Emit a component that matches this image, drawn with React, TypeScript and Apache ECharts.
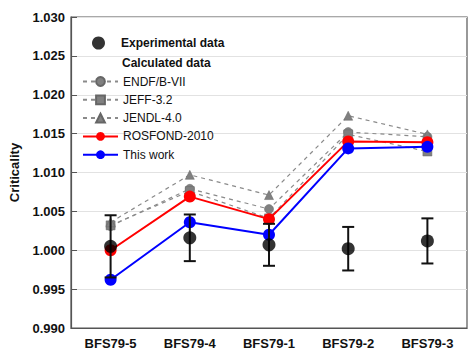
import React, { useEffect, useRef } from "react";
import * as echarts from "echarts";

const categories = ["BFS79-5", "BFS79-4", "BFS79-1", "BFS79-2", "BFS79-3"];
const experimental = [1.0005, 1.0016, 1.0007, 1.0002, 1.0012];
const expError = [0.004, 0.003, 0.0027, 0.0028, 0.0029];
const endf = [1.0031, 1.0079, 1.0053, 1.0152, 1.0146];
const jeff = [1.0032, 1.0076, 1.0041, 1.0149, 1.0127];
const jendl = [1.0036, 1.0097, 1.0071, 1.0173, 1.0149];
const rosfond = [1.0, 1.0069, 1.004, 1.014, 1.0139];
const thisWork = [0.9962, 1.0036, 1.002, 1.0131, 1.0133];
const yTicks = { min: 0.99, max: 1.03, interval: 0.005 };

export default function App() {
  const ref = useRef<HTMLDivElement>(null);
  useEffect(() => {
    if (!ref.current) return;
    const chart = echarts.init(ref.current, undefined, { renderer: "svg" });
    const font = "Liberation Sans, Arial, sans-serif";
    const gray = "#808080";
    const dashed = (name: string, data: number[], symbol: string) => ({
      name,
      type: "line",
      data,
      symbol,
      symbolSize: 9,
      z: 2,
      itemStyle: { color: gray, borderColor: "#666", borderWidth: 0.5 },
      lineStyle: { color: "#8a8a8a", width: 1.2, type: [4, 4] },
    });
    chart.setOption({
      animation: false,
      textStyle: { fontFamily: font },
      grid: { left: 65, right: 7, top: 17, bottom: 34, show: true, borderColor: "#555", borderWidth: 1.2 },
      xAxis: {
        type: "category",
        data: categories,
        boundaryGap: true,
        axisLine: { lineStyle: { color: "#555", width: 1.2 } },
        axisTick: { inside: true, alignWithLabel: true, length: 6, lineStyle: { color: "#555" } },
        axisLabel: { color: "#111", fontWeight: "bold", fontSize: 13, fontFamily: font, margin: 9 },
      },
      yAxis: {
        type: "value",
        min: yTicks.min,
        max: yTicks.max,
        interval: yTicks.interval,
        name: "Criticality",
        nameLocation: "middle",
        nameGap: 50,
        nameTextStyle: { color: "#111", fontWeight: "bold", fontSize: 13, fontFamily: font },
        axisLine: { show: true, lineStyle: { color: "#555", width: 1.2 } },
        axisTick: { show: true, inside: true, length: 6, lineStyle: { color: "#555" } },
        axisLabel: {
          color: "#111",
          fontWeight: "bold",
          fontSize: 13,
          fontFamily: font,
          margin: 6,
          formatter: (v: number) => v.toFixed(3),
        },
        splitLine: { show: true, lineStyle: { color: "#e2e2e2", width: 1 } },
      },
      legend: [
        {
          data: ["Experimental data"],
          left: 92,
          top: 36.5,
          padding: 0,
          itemWidth: 35,
          itemHeight: 13,
          textStyle: { fontWeight: "bold", fontSize: 12, color: "#111", fontFamily: font },
        },
        {
          data: ["ENDF/B-VII", "JEFF-3.2", "JENDL-4.0", "ROSFOND-2010", "This work"],
          orient: "vertical",
          left: 82,
          top: 75.5,
          padding: 0,
          itemGap: 6.3,
          itemWidth: 35,
          itemHeight: 11,
          textStyle: { fontSize: 12, color: "#111", fontFamily: font },
        },
      ],
      graphic: [
        {
          type: "text",
          left: 122,
          top: 57,
          style: { text: "Calculated data", fontWeight: "bold", fontSize: 12, fill: "#111", fontFamily: font },
        },
      ],
      series: [
        dashed("ENDF/B-VII", endf, "circle"),
        dashed("JEFF-3.2", jeff, "rect"),
        dashed("JENDL-4.0", jendl, "triangle"),
        {
          name: "ROSFOND-2010",
          type: "line",
          data: rosfond,
          symbol: "circle",
          symbolSize: 12,
          z: 3,
          itemStyle: { color: "#ff0000" },
          lineStyle: { color: "#ff0000", width: 2 },
        },
        {
          name: "This work",
          type: "line",
          data: thisWork,
          symbol: "circle",
          symbolSize: 12,
          z: 4,
          itemStyle: { color: "#0000ff" },
          lineStyle: { color: "#0000ff", width: 2 },
        },
        {
          name: "errbar",
          type: "custom",
          z: 5,
          data: experimental.map((v, i) => [i, v - expError[i], v + expError[i]]),
          renderItem: (params: any, api: any) => {
            const x = api.value(0);
            const lo = api.coord([x, api.value(1)]);
            const hi = api.coord([x, api.value(2)]);
            const w = 6;
            const style = { stroke: "#111", lineWidth: 2 };
            return {
              type: "group",
              children: [
                { type: "line", shape: { x1: lo[0], y1: lo[1], x2: hi[0], y2: hi[1] }, style },
                { type: "line", shape: { x1: lo[0] - w, y1: lo[1], x2: lo[0] + w, y2: lo[1] }, style },
                { type: "line", shape: { x1: hi[0] - w, y1: hi[1], x2: hi[0] + w, y2: hi[1] }, style },
              ],
            };
          },
        },
        {
          name: "Experimental data",
          type: "scatter",
          data: experimental,
          symbol: "circle",
          symbolSize: 13,
          z: 6,
          itemStyle: { color: "#000" },
        },
      ],
    });
    return () => chart.dispose();
  }, []);
  return (
    <div
      ref={ref}
      style={{ position: "fixed", left: 0, top: 0, width: 474, height: 362, background: "#fff" }}
    />
  );
}
